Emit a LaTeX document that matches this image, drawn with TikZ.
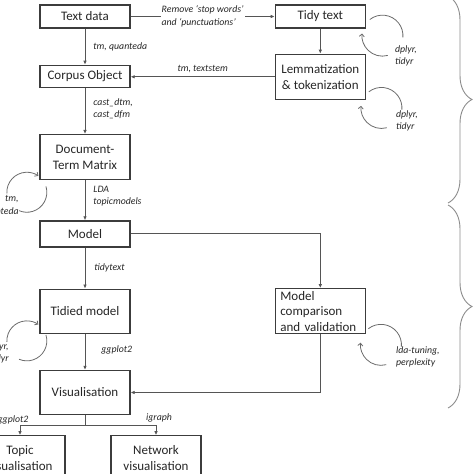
\documentclass[tikz,border=0pt]{standalone}
\usepackage{fontspec}
\setmainfont{Carlito}
\usetikzlibrary{positioning,calc}
\usetikzlibrary{arrows.meta}
\usetikzlibrary{decorations.pathreplacing}

\definecolor{boxline}{HTML}{3C3C3C}
\definecolor{flowline}{HTML}{555555}
\definecolor{loopline}{HTML}{6B6B6B}
\definecolor{braceline}{HTML}{8C8C8C}
\definecolor{inktext}{HTML}{262626}

\tikzset{
   stage/.style={draw=boxline, line width=1.3pt, text=inktext,
      minimum width=90pt, align=center, inner sep=2pt,
      font=\fontsize{13}{16}\selectfont},
   tool/.style={text=inktext, align=left, inner sep=1pt,
      font=\fontsize{9.8}{12.5}\selectfont\itshape},
   flow/.style={draw=flowline, line width=0.9pt,
      -{Latex[length=4pt,width=3.6pt]}},
   turn/.style={draw=loopline, line width=0.8pt},
   turntip/.style={turn, -{Straight Barb[length=2.5pt,width=5pt]}},
   grp/.style={draw=braceline, line width=0.9pt,
      decoration={brace, amplitude=24pt}, decorate},
}

\begin{document}
\begin{tikzpicture}[x=1pt,y=1pt]
   \useasboundingbox (0,0) rectangle (474,-474);

   % main column
   \node[stage, minimum height=23pt]                  (t0) at (85,-16.5) {Text data};
   \node[stage, minimum height=22pt, below=36pt of t0] (c0) {Corpus Object};
   \node[stage, minimum height=45pt, below=46pt of c0] (d0) {Document-\\Term Matrix};
   \node[stage, minimum height=26pt, below=40pt of d0] (m0) {Model};
   \node[stage, minimum height=44pt, below=41pt of m0] (m1) {Tidied model};
   \node[stage, minimum height=44pt, below=36pt of m1] (v0) {Visualisation};

   % outputs
   \node[stage, minimum height=45pt, below=20pt of v0, xshift=-65pt] (v1) {Topic\\visualisation};
   \node[stage, minimum height=45pt, below=20pt of v0, xshift=71pt]  (v2) {Network\\visualisation};

   % cleaning column
   \node[stage, minimum height=23pt, right=144pt of t0] (t1) {Tidy text};
   \node[stage, minimum height=45pt, below=25pt of t1] (t2) {Lemmatization\\\& tokenization};
   \node[stage, minimum height=45pt, right=144pt of m1, align=left, text width=80pt,
      inner ysep=0.5pt, font=\fontsize{13}{15.5}\selectfont] (m2) {Model\\comparison\\and validation};

   % connectors
   \draw[flow] (t0) -- node[tool, fill=white] {Remove ‘stop words’\\and ‘punctuations’} (t1);
   \draw[flow] (t1) -- (t2);
   \draw[flow] (t2.west) -- node[tool, above, yshift=3pt] {tm, textstem} (t2.west -| c0.east);
   \draw[flow] (t0) -- node[tool, right=7pt] {tm, quanteda} (c0);
   \draw[flow] (c0) -- node[tool, right=7pt, pos=0.45] {cast\_dtm,\\cast\_dfm} (d0);
   \draw[flow] (d0) -- node[tool, right=7pt, pos=0.4] {LDA\\topicmodels} (m0);
   \draw[flow] (m0) -- node[tool, right=8pt] {tidytext} (m1);
   \draw[flow] (m1) -- node[tool, right=15pt, pos=0.45] {ggplot2} (v0);
   \draw[flow] (m0) -| (m2);
   \draw[flow] (m2) |- (v0);

   % split to outputs
   \draw[flow, -] (v0.south) -- ++(0,-10) coordinate (s0);
   \draw[flow] (s0) -| node[tool, pos=0.5, above, xshift=-7pt] {ggplot2} (v1);
   \draw[flow] (s0) -| node[tool, pos=0.5, above, xshift=3pt, yshift=2pt] {igraph} (v2);

   % loops, right side
   \coordinate (l1) at ($(t1.south east)+(16.5,-7)$);
   \draw[turn]    (l1) ++(128:20.5pt) arc[start angle=128, end angle=-5, radius=20.5pt];
   \draw[turntip] (l1) ++(-75:20.5pt) arc[start angle=-75, end angle=-186, radius=20.5pt];
   \node[tool, anchor=west] (p1) at ($(l1)+(11.5,-20)$) {dplyr,\\tidyr};

   \coordinate (l2) at ($(t2.south east)+(15.5,-8)$);
   \draw[turn]    (l2) ++(128:20.5pt) arc[start angle=128, end angle=-5, radius=20.5pt];
   \draw[turntip] (l2) ++(-75:20.5pt) arc[start angle=-75, end angle=-186, radius=20.5pt];
   \node[tool, anchor=west] (p2) at ($(l2)+(13.5,-13)$) {dplyr,\\tidyr};

   \coordinate (l3) at ($(m2.south east)+(15,-10.5)$);
   \draw[turn]    (l3) ++(128:20.5pt) arc[start angle=128, end angle=-5, radius=20.5pt];
   \draw[turntip] (l3) ++(-75:20.5pt) arc[start angle=-75, end angle=-186, radius=20.5pt];
   \node[tool, anchor=west] (p3) at ($(l3)+(14,-12)$) {lda-tuning,\\perplexity};

   % loops, left side
   \coordinate (l4) at ($(d0.south west)+(-12.5,-12)$);
   \draw[turntip] (l4) ++(183:20pt) arc[start angle=183, end angle=55, radius=20pt];
   \draw[turn]    (l4) ++(17:20pt) arc[start angle=17, end angle=-113, radius=20pt];
   \node[tool, anchor=east, align=right] (p4) at ($(l4)+(-7,-13.5)$) {tm,\\quanteda};

   \coordinate (l5) at ($(m1.south west)+(-12.5,-7)$);
   \draw[turntip] (l5) ++(183:20pt) arc[start angle=183, end angle=55, radius=20pt];
   \draw[turn]    (l5) ++(17:20pt) arc[start angle=17, end angle=-113, radius=20pt];
   \node[tool, anchor=east, align=right] (p5) at ($(l5)+(-17,-12)$) {dplyr,\\tidyr};

   % stages
   \draw[grp] (448,4) -- (448,-203);
   \draw[grp] (448,-205) -- (448,-408);
\end{tikzpicture}
\end{document}
